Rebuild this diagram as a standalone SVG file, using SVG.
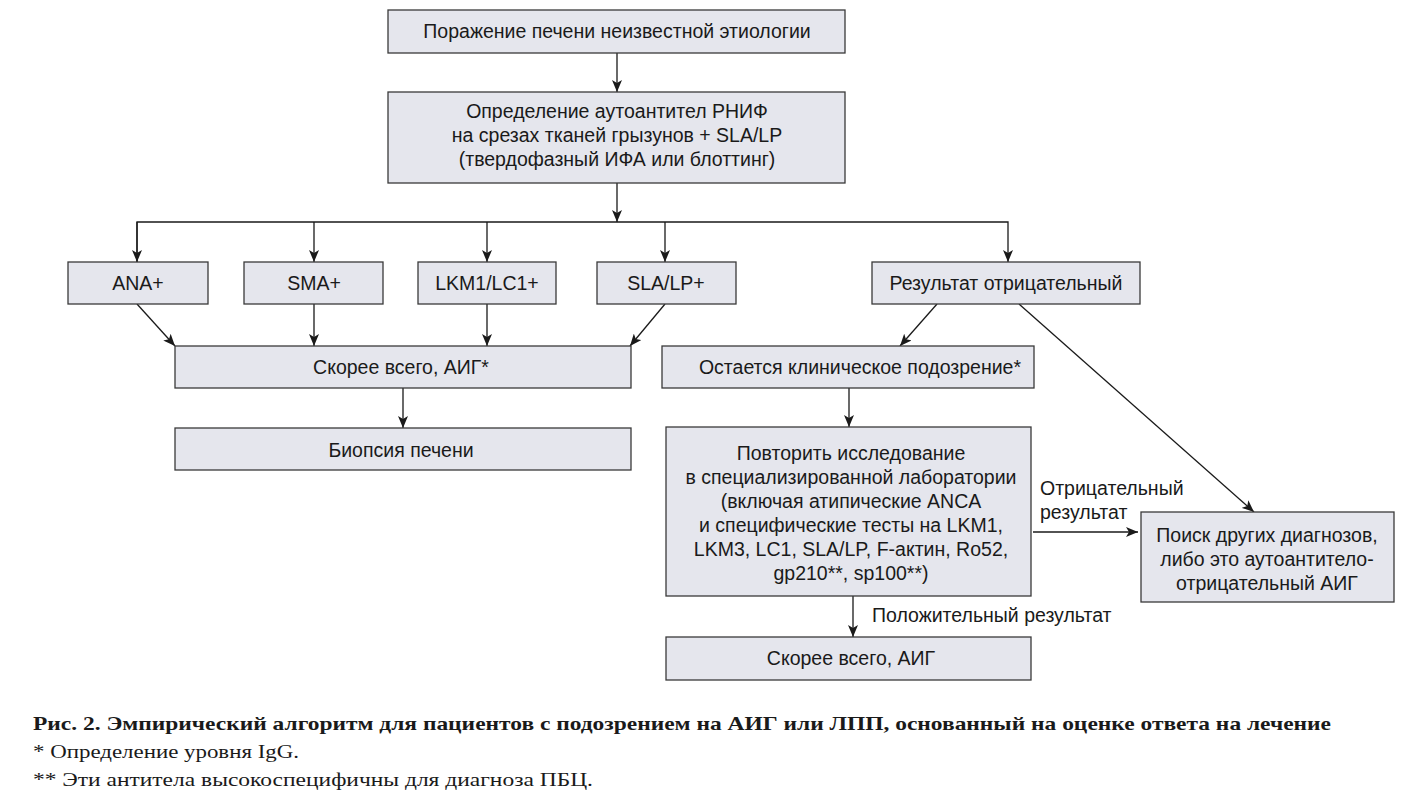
<svg xmlns="http://www.w3.org/2000/svg" width="1426" height="796" viewBox="0 0 1426 796">
<defs>
<style>
.box{fill:#e5e6ed;stroke:#3a3a3a;stroke-width:1.3}
.t{font-family:"Liberation Sans",Arial,sans-serif;font-size:19.5px;fill:#1a1a1a;text-anchor:middle}
.tl{font-family:"Liberation Sans",Arial,sans-serif;font-size:19.5px;fill:#1a1a1a}
.c{fill:none;stroke:#1a1a1a;stroke-width:1.3}
.cap{font-family:"Liberation Serif","Times New Roman",serif;font-size:19px;fill:#1a1a1a}
</style>
<marker id="ah" viewBox="0 0 12 10" refX="12" refY="5" markerWidth="12" markerHeight="10" markerUnits="userSpaceOnUse" orient="auto">
<path d="M0,0 L12,5 L0,10 L3,5 Z" fill="#1a1a1a"/>
</marker>
</defs>
<rect width="1426" height="796" fill="#ffffff"/>
<g id="connectors">
<line class="c" x1="617" y1="53" x2="617" y2="92" marker-end="url(#ah)"/>
<line class="c" x1="617" y1="183" x2="617" y2="222" marker-end="url(#ah)"/>
<polyline class="c" points="137,262 137,222 1008,222 1008,262" marker-end="url(#ah)"/>
<line class="c" x1="137" y1="222" x2="137" y2="262" marker-end="url(#ah)"/>
<line class="c" x1="314" y1="222" x2="314" y2="262" marker-end="url(#ah)"/>
<line class="c" x1="487" y1="222" x2="487" y2="262" marker-end="url(#ah)"/>
<line class="c" x1="665" y1="222" x2="665" y2="262" marker-end="url(#ah)"/>
<line class="c" x1="137" y1="304" x2="175" y2="346" marker-end="url(#ah)"/>
<line class="c" x1="314" y1="304" x2="314" y2="346" marker-end="url(#ah)"/>
<line class="c" x1="487" y1="304" x2="487" y2="346" marker-end="url(#ah)"/>
<line class="c" x1="665" y1="304" x2="630" y2="346" marker-end="url(#ah)"/>
<line class="c" x1="403" y1="388" x2="403" y2="428" marker-end="url(#ah)"/>
<line class="c" x1="937" y1="304" x2="900" y2="346" marker-end="url(#ah)"/>
<line class="c" x1="1019" y1="304" x2="1254" y2="512" marker-end="url(#ah)"/>
<line class="c" x1="849" y1="388" x2="849" y2="427" marker-end="url(#ah)"/>
<line class="c" x1="1033" y1="532" x2="1138" y2="532" marker-end="url(#ah)"/>
<line class="c" x1="853" y1="596" x2="853" y2="637" marker-end="url(#ah)"/>
<text class="tl" x="1040" y="495">Отрицательный</text>
<text class="tl" x="1040" y="519">результат</text>
<text class="tl" x="872" y="622">Положительный результат</text>
</g>
<g id="n1"><rect class="box" x="388" y="10" width="457" height="43"/><text class="t" x="617" y="38">Поражение печени неизвестной этиологии</text></g>
<g id="n2"><rect class="box" x="388" y="92" width="457" height="91"/>
<text class="t" x="617" y="118">Определение аутоантител РНИФ</text>
<text class="t" x="617" y="142">на срезах тканей грызунов + SLA/LP</text>
<text class="t" x="617" y="166">(твердофазный ИФА или блоттинг)</text></g>
<g id="n3"><rect class="box" x="68" y="262" width="140" height="42"/><text class="t" x="138" y="290">ANA+</text></g>
<g id="n4"><rect class="box" x="244" y="262" width="139" height="42"/><text class="t" x="314" y="290">SMA+</text></g>
<g id="n5"><rect class="box" x="418" y="262" width="138" height="42"/><text class="t" x="487" y="290">LKM1/LC1+</text></g>
<g id="n6"><rect class="box" x="597" y="262" width="139" height="42"/><text class="t" x="666" y="290">SLA/LP+</text></g>
<g id="n7"><rect class="box" x="872" y="262" width="268" height="42"/><text class="t" x="1006" y="290">Результат отрицательный</text></g>
<g id="n8"><rect class="box" x="175" y="346" width="456" height="42"/><text class="t" x="401" y="374">Скорее всего, АИГ*</text></g>
<g id="n9"><rect class="box" x="175" y="428" width="456" height="42"/><text class="t" x="401" y="457">Биопсия печени</text></g>
<g id="n10"><rect class="box" x="662" y="346" width="372" height="42"/><text class="t" x="860" y="374">Остается клиническое подозрение*</text></g>
<g id="n11"><rect class="box" x="666" y="427" width="365" height="169"/>
<text class="t" x="851" y="460">Повторить исследование</text>
<text class="t" x="851" y="484">в специализированной лаборатории</text>
<text class="t" x="851" y="508">(включая атипические ANCA</text>
<text class="t" x="851" y="532">и специфические тесты на LKM1,</text>
<text class="t" x="851" y="556">LKM3, LC1, SLA/LP, F-актин, Ro52,</text>
<text class="t" x="851" y="580">gp210**, sp100**)</text></g>
<g id="n12"><rect class="box" x="1141" y="512" width="253" height="90"/>
<text class="t" x="1267" y="542">Поиск других диагнозов,</text>
<text class="t" x="1267" y="566">либо это аутоантитело-</text>
<text class="t" x="1267" y="590">отрицательный АИГ</text></g>
<g id="n13"><rect class="box" x="666" y="637" width="365" height="43"/><text class="t" x="851" y="665">Скорее всего, АИГ</text></g>
<g id="caption">
<text class="cap" x="33" y="730" font-weight="bold" textLength="1298" lengthAdjust="spacingAndGlyphs">Рис. 2. Эмпирический алгоритм для пациентов с подозрением на АИГ или ЛПП, основанный на оценке ответа на лечение</text>
<text class="cap" x="33" y="758" font-size="18" textLength="266" lengthAdjust="spacingAndGlyphs">* Определение уровня IgG.</text>
<text class="cap" x="33" y="786" font-size="18" textLength="560" lengthAdjust="spacingAndGlyphs">** Эти антитела высокоспецифичны для диагноза ПБЦ.</text>
</g>
</svg>
